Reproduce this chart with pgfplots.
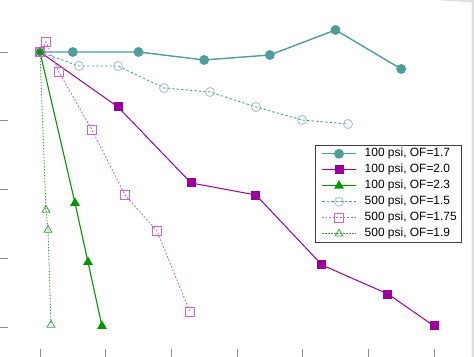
\documentclass[border=0pt]{standalone}
\usepackage{fontspec}
\setmainfont{Liberation Sans}
\usepackage{pgfplots}
\pgfplotsset{compat=1.18}
\definecolor{tealc}{RGB}{79,157,157}
\definecolor{tealo}{RGB}{170,196,196}
\definecolor{purp}{RGB}{156,0,156}
\definecolor{magl}{RGB}{204,102,204}
\definecolor{grn}{RGB}{0,150,0}
\definecolor{grnl}{RGB}{60,160,60}
\begin{document}
\begin{tikzpicture}
\begin{axis}[
  scale only axis,
  width=474bp, height=357bp,
  xmin=-0.609, xmax=6.609,
  ymin=-0.436, ymax=4.756,
  axis x line=bottom, axis y line=left,
  axis line style={draw=none,-},
  xtick={0,...,6}, ytick={0,...,4},
  xticklabels={}, yticklabels={},
  tick align=inside,
  major tick length=8bp,
  tick style={color=gray!90, line width=0.8bp},
  legend cell align=left,
  legend style={at={(0.6646,0.594)}, anchor=north west, draw=black!75, line width=0.6bp,
    font=\fontsize{12}{14}\selectfont, row sep=0bp, column sep=6bp,
    inner xsep=3bp, inner ysep=0.5bp,
    nodes={inner xsep=2bp, inner ysep=2bp, text height=9bp, text depth=3bp}},
  legend image code/.code={\path (0bp,0bp); \draw[mark repeat=2,mark phase=2,#1] plot coordinates {(3bp,0bp) (20bp,0bp) (37bp,0bp)};},
]
\addplot[color=tealc, line width=1.4bp, mark=*, mark size=4.2bp, mark options={solid, fill=tealc, draw=tealc}] coordinates {
 (0,4.0) (0.5,4.0) (1.5,4.0) (2.5,3.884) (3.5,3.956) (4.5,4.32) (5.5,3.753)};
\addlegendentry{100 psi, OF=1.7}
\addplot[color=purp, line width=1bp, mark=square*, mark size=4bp, mark options={solid, fill=purp, draw=purp}] coordinates {
 (0,4.0) (1.188,3.2) (2.30,2.095) (3.289,1.92) (4.294,0.902) (5.299,0.48) (6.0,0.015)};
\addlegendentry{100 psi, OF=2.0}
\addplot[color=grn, line width=1.1bp, mark=triangle*, mark size=4.5bp, mark options={solid, fill=grn, draw=grn}] coordinates {
 (0,4.0) (0.533,1.804) (0.731,0.945) (0.944,0.015)};
\addlegendentry{100 psi, OF=2.3}
\addplot[color=tealc, line width=0.9bp, dash pattern=on 2.5bp off 2bp, mark=o, mark size=4.5bp, mark options={solid, fill=white, draw=tealo, line width=0.9bp}] coordinates {
 (0,4.0) (0.594,3.796) (1.188,3.796) (1.888,3.476) (2.589,3.418) (3.289,3.2) (3.990,3.011) (4.690,2.953)};
\addlegendentry{500 psi, OF=1.5}
\addplot[color=magl, line width=0.9bp, dash pattern=on 1.8bp off 1.8bp, mark=square, mark size=4.5bp, mark options={solid, fill=white, draw=magl, line width=0.9bp}] coordinates {
 (0,4.0) (0.091,4.145) (0.289,3.709) (0.792,2.865) (1.294,1.92) (1.782,1.396) (2.284,0.218)};
\addlegendentry{500 psi, OF=1.75}
\addplot[color=grnl, line width=0.9bp, dash pattern=on 1.5bp off 1.5bp, mark=triangle, mark size=4.5bp, mark options={solid, fill=white, draw=grnl, line width=0.8bp}] coordinates {
 (0,4.0) (0.091,1.702) (0.122,1.411) (0.168,0.029)};
\addlegendentry{500 psi, OF=1.9}
\draw[black!13, line width=2.5bp] (rel axis cs:0,1) ++(0,-1.25bp) -- ([yshift=-1.25bp,xshift=-1.25bp]rel axis cs:1,1) -- ([xshift=-1.25bp]rel axis cs:1,0);
\end{axis}
\pgfresetboundingbox
\path[use as bounding box] (current axis.south west) rectangle (current axis.north east);
\end{tikzpicture}
\end{document}
